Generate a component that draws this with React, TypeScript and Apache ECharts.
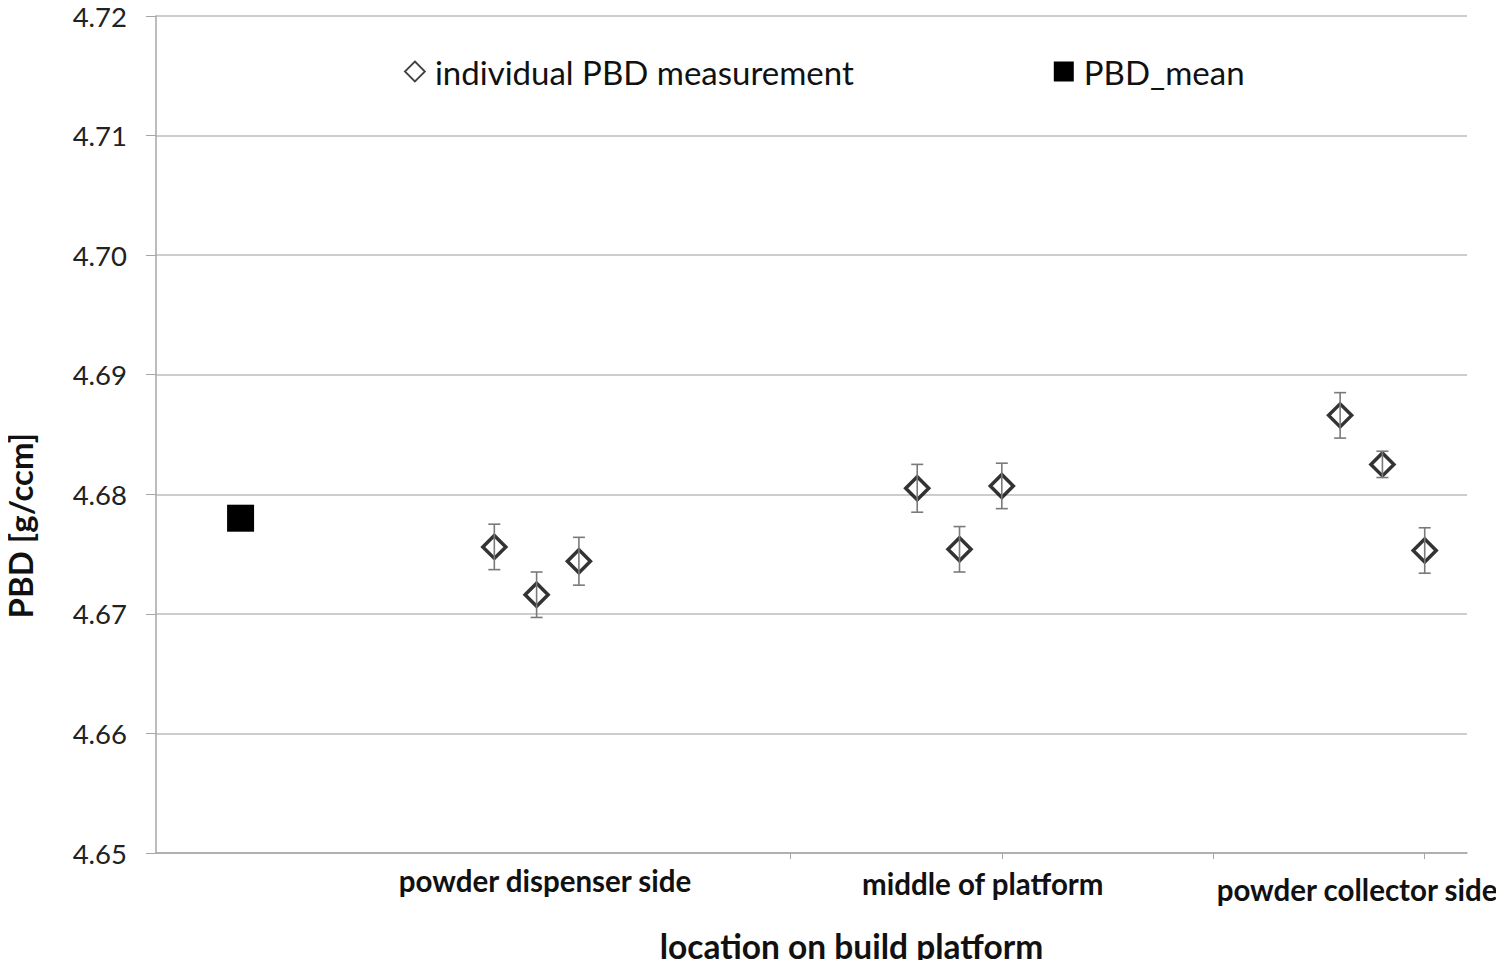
import React, { useEffect, useRef } from "react";
import * as echarts from "echarts";

// Position along the build platform (x) and measured powder bed density (g/ccm)
const positions = [8, 9, 10, 18, 19, 20, 28, 29, 30];
const pbdValues = [4.6756, 4.6716, 4.6744, 4.6805, 4.6754, 4.6807, 4.6866, 4.6825, 4.6753];
const pbdErrors = [0.0019, 0.0019, 0.002, 0.002, 0.0019, 0.0019, 0.0019, 0.0011, 0.0019];

const meanPosition = 2;
const meanValue = 4.678;

const locationLabels = ["powder dispenser side", "middle of platform", "powder collector side"];
const locationLabelPositions = [9.2, 19.55, 28.4];
const xTickValues = [15, 20, 25, 30];

const FONT = "Lato";

export default function App() {
  const ref = useRef<HTMLDivElement>(null);

  useEffect(() => {
    if (!ref.current) return;
    const chart = echarts.init(ref.current, null, { renderer: "svg" });

    const measured = positions.map((x, i) => [x, pbdValues[i]]);
    const errorData = positions.map((x, i) => [x, pbdValues[i] - pbdErrors[i], pbdValues[i] + pbdErrors[i]]);
    const richKeys = ["a", "b", "c"];
    const catStyle = { fontSize: 29.5, fontWeight: "bold", color: "#111", fontFamily: FONT };

    chart.setOption({
      animation: false,
      backgroundColor: "#ffffff",
      textStyle: { fontFamily: FONT },
      grid: { left: 156, right: 37, top: 16, bottom: 115 },
      legend: {
        top: 50,
        left: 399,
        itemGap: 200,
        itemWidth: 20,
        itemHeight: 20,
        textStyle: { fontSize: 33, color: "#111", fontFamily: FONT, padding: [0, 0, 0, 5] },
        data: [
          {
            name: "individual PBD measurement",
            icon: "diamond",
            itemStyle: { color: "#fff", borderColor: "#111", borderWidth: 1.8 },
          },
          { name: "PBD_mean", icon: "rect", itemStyle: { color: "#000" } },
        ],
      },
      graphic: [
        {
          type: "text",
          left: 3,
          top: 433,
          rotation: Math.PI / 2,
          style: {
            text: "PBD [g/ccm]",
            fontSize: 33,
            fontWeight: "bold",
            fill: "#111",
            fontFamily: FONT,
          },
        },
      ],
      xAxis: {
        type: "value",
        min: 0,
        max: 31,
        name: "location on build platform",
        nameLocation: "middle",
        nameGap: 76,
        nameTextStyle: {
          fontSize: 33.5,
          fontWeight: "bold",
          color: "#111",
          fontFamily: FONT,
          padding: [0, 0, 0, 80],
        },
        axisLine: { lineStyle: { color: "#a6a6a6", width: 1.5 } },
        axisTick: { show: true, length: 6, customValues: xTickValues, lineStyle: { color: "#a6a6a6" } },
        splitLine: { show: false },
        axisLabel: {
          customValues: locationLabelPositions,
          margin: 12,
          formatter: (v: number) => {
            const i = locationLabelPositions.indexOf(v);
            return i >= 0 ? `{${richKeys[i]}|${locationLabels[i]}}` : "";
          },
          rich: {
            a: { ...catStyle, padding: [0, 0, 0, 0] },
            b: { ...catStyle, padding: [3, 0, 0, 0] },
            c: { ...catStyle, padding: [9, 0, 0, 0] },
          },
        },
      },
      yAxis: {
        type: "value",
        min: 4.65,
        max: 4.72,
        interval: 0.01,
        axisLine: { show: true, lineStyle: { color: "#a6a6a6", width: 1.5 } },
        axisTick: { show: true, length: 10, lineStyle: { color: "#a6a6a6" } },
        axisLabel: {
          fontSize: 27.5,
          color: "#222",
          margin: 29,
          fontFamily: FONT,
          formatter: (v: number) => v.toFixed(2),
        },
        splitLine: { lineStyle: { color: "#bdbdbd", width: 1.5 } },
      },
      series: [
        {
          name: "individual PBD measurement",
          type: "scatter",
          symbol: "diamond",
          symbolSize: 23,
          itemStyle: { color: "#ffffff", borderColor: "#000000", borderWidth: 3.5 },
          data: measured,
          z: 3,
        },
        {
          name: "error",
          type: "custom",
          z: 4,
          silent: true,
          renderItem: (params: any, api: any) => {
            const x = api.value(0);
            const lo = api.coord([x, api.value(1)]);
            const hi = api.coord([x, api.value(2)]);
            const cap = 6;
            const style = { stroke: "#7a7a7a", lineWidth: 1.6 };
            return {
              type: "group",
              children: [
                { type: "line", shape: { x1: lo[0], y1: lo[1], x2: hi[0], y2: hi[1] }, style },
                { type: "line", shape: { x1: lo[0] - cap, y1: lo[1], x2: lo[0] + cap, y2: lo[1] }, style },
                { type: "line", shape: { x1: hi[0] - cap, y1: hi[1], x2: hi[0] + cap, y2: hi[1] }, style },
              ],
            };
          },
          encode: { x: 0, y: [1, 2] },
          data: errorData,
        },
        {
          name: "PBD_mean",
          type: "scatter",
          symbol: "rect",
          symbolSize: 27,
          itemStyle: { color: "#000000", opacity: 1 },
          data: [[meanPosition, meanValue]],
          z: 3,
        },
      ],
    });

    return () => chart.dispose();
  }, []);

  return <div ref={ref} style={{ width: 1504, height: 968, margin: -8 }} />;
}
